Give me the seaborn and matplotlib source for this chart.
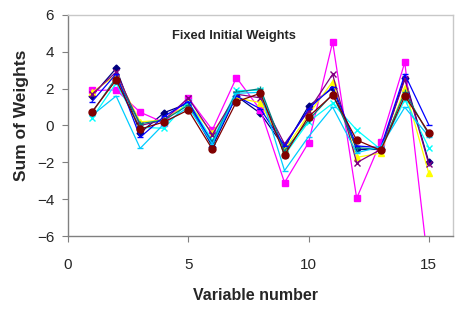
import numpy as np
import pandas as pd
import matplotlib
matplotlib.use("Agg")
import matplotlib.pyplot as plt
import seaborn as sns

variables = list(range(1, 16))

s_navy    = [1.6, 3.1, -0.4, 0.7, 1.2, -1.15, 1.6, 0.66, -1.2, 1.06, 2.02, -1.3, -1.3, 2.6, -2.0]
s_magenta = [1.9, 1.93, 0.72, 0.15, 1.5, -0.24, 2.6, 0.84, -3.1, -0.93, 4.53, -3.95, -0.88, 3.43, -7.9]
s_yellow  = [1.8, 2.74, 0.2, 0.3, 1.2, -0.4, 1.5, 1.24, -1.33, 0.6, 2.38, -1.73, -1.5, 2.02, -2.6]
s_cyan    = [0.4, 2.3, -0.1, -0.15, 1.3, -0.8, 1.9, 1.9, -1.6, 0.2, 1.2, -0.24, -1.3, 1.4, -1.2]
s_purple  = [1.7, 2.9, 0.0, 0.3, 1.5, -0.5, 1.7, 1.5, -1.0, 0.8, 2.78, -2.02, -1.3, 2.5, -2.1]
s_teal    = [0.7, 2.6, 0.1, 0.3, 1.1, -0.9, 1.8, 2.0, -1.4, 0.3, 1.7, -1.2, -1.3, 1.8, -0.5]
s_blue    = [1.3, 2.8, -0.64, 0.5, 1.3, -1.0, 1.6, 0.9, -1.1, 0.9, 2.1, -1.11, -1.2, 2.78, 0.03]
s_sky     = [0.55, 1.6, -1.24, 0.1, 1.0, -1.0, 1.75, 1.8, -2.45, -0.6, 1.0, -1.48, -1.15, 0.99, -0.6]
s_maroon  = [0.75, 2.47, -0.2, 0.2, 0.84, -1.29, 1.29, 1.75, -1.6, 0.48, 1.66, -0.79, -1.35, 1.6, -0.39]

series = [
    ("s1", s_navy, "#000080", "D", 3.5),
    ("s2", s_magenta, "#FF00FF", "s", 4.5),
    ("s3", s_yellow, "#FFFF00", "^", 5),
    ("s4", s_cyan, "#00FFFF", "x", 4),
    ("s5", s_purple, "#800080", "x", 4),
    ("s7", s_teal, "#008080", "+", 4),
    ("s8", s_blue, "#0000FF", "_", 5),
    ("s9", s_sky, "#00CCFF", "_", 5),
    ("s6", s_maroon, "#800000", "o", 5),
]

sns.set_theme(style="white")
plt.rcParams['font.family'] = ['Liberation Sans', 'DejaVu Sans']

fig = plt.figure(figsize=(4.74, 3.22), dpi=100)
ax = fig.add_axes([0.1435, 0.267, 0.812, 0.6865])

for name, vals, col, mk, ms in series:
    df = pd.DataFrame({"Variable number": variables, "Sum of Weights": vals})
    sns.lineplot(data=df, x="Variable number", y="Sum of Weights", ax=ax,
                 color=col, marker=mk, markersize=ms, linewidth=0.9,
                 markeredgecolor=col, markeredgewidth=1.0)

ax.set_xlim(0, 16)
ax.set_ylim(-6, 6)
ax.set_xticks([0, 5, 10, 15])
ax.set_yticks([-6, -4, -2, 0, 2, 4, 6])
ax.tick_params(axis='both', labelsize=11, direction='out', length=4, width=0.8,
               color='#808080', left=True, bottom=True)
ax.tick_params(axis='x', pad=12)
ax.tick_params(axis='y', pad=6)
ax.set_xlabel("Variable number", fontsize=11.5, fontweight='bold')
ax.set_ylabel("Sum of Weights", fontsize=12.5, fontweight='bold')
ax.xaxis.set_label_coords(0.486, -0.235)
ax.yaxis.set_label_coords(-0.101, 0.548)
for side in ['left', 'bottom']:
    ax.spines[side].set_color('#808080')
    ax.spines[side].set_linewidth(1.0)
for side in ['top', 'right']:
    ax.spines[side].set_color('#c8c8c8')
    ax.spines[side].set_linewidth(1.0)
ax.text(0.431, 0.905, "Fixed Initial Weights", transform=ax.transAxes,
        ha='center', va='center', fontsize=9.3, fontweight='bold')

fig.savefig("out.png", dpi=100)
